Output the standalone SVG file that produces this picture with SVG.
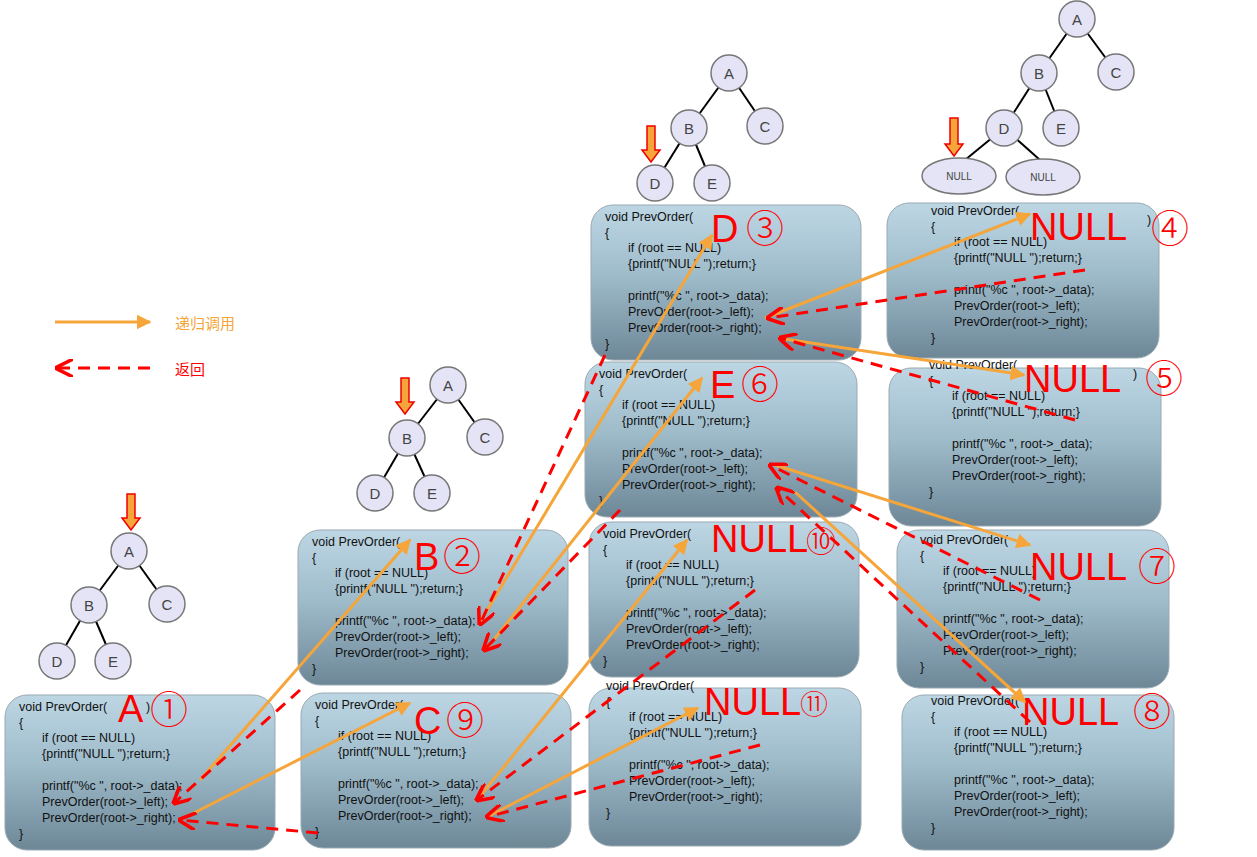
<svg xmlns="http://www.w3.org/2000/svg" width="1257" height="857" viewBox="0 0 1257 857">
<defs>
<linearGradient id="g" x1="0" y1="0" x2="0" y2="1"><stop offset="0" stop-color="#bdd6e4"/><stop offset="0.45" stop-color="#9fbccb"/><stop offset="1" stop-color="#6d8797"/></linearGradient>
<marker id="ao" viewBox="0 0 10 10" refX="9" refY="5" markerWidth="5" markerHeight="5" orient="auto"><path d="M0,0L10,5L0,10z" fill="#f5a53a"/></marker>
<marker id="ar" viewBox="0 0 10 10" refX="9" refY="5" markerWidth="6" markerHeight="6" orient="auto"><path d="M0,0L10,5L0,10" fill="none" stroke="#f00" stroke-width="2"/></marker>
<style>
.box{fill:url(#g);stroke:#9aa9b2;stroke-width:1}
.c{font-family:"Liberation Sans",Arial,sans-serif;font-size:12.5px;fill:#111}
.big{font-family:"Liberation Sans",Arial,sans-serif;font-size:38px;fill:#f00}
.num{font-family:"Noto Sans CJK SC","Liberation Serif",serif;font-size:38px;fill:#f00;font-weight:200}
.n{fill:#e4e4f6;stroke:#777;stroke-width:1.5}
.nt{font-family:"Liberation Sans",Arial,sans-serif;font-size:15px;fill:#444;text-anchor:middle}
.nt2{font-family:"Liberation Sans",Arial,sans-serif;font-size:10px;fill:#444;text-anchor:middle}
.e{stroke:#000;stroke-width:2}
.call{stroke:#f5a53a;stroke-width:3;fill:none;marker-end:url(#ao)}
.ret{stroke:#f00;stroke-width:3;stroke-dasharray:12,8;fill:none;marker-end:url(#ar)}
.down{fill:#f5a53a;stroke:#e00;stroke-width:1.5}
</style>
<g id="code">
<text x="0" y="0" class="c"><tspan x="14" dy="16">void  PrevOrder(</tspan><tspan x="14" dy="16">{</tspan><tspan x="37" dy="15">if (root == NULL)</tspan><tspan x="37" dy="16">{printf("NULL  ");return;}</tspan><tspan x="37" dy="32">printf("%c  ", root-&gt;_data);</tspan><tspan x="37" dy="16">PrevOrder(root-&gt;_left);</tspan><tspan x="37" dy="16">PrevOrder(root-&gt;_right);</tspan><tspan x="14" dy="16">}</tspan></text>
</g>
</defs>
<rect width="1257" height="857" fill="#fff"/>
<g id="legend">
<line x1="55" y1="322" x2="150" y2="322" class="call"/>
<text x="175" y="329" font-family="Noto Sans CJK SC,sans-serif" font-size="15" fill="#f5a53a">递归调用</text>
<line x1="150" y1="368" x2="57" y2="368" class="ret"/>
<text x="175" y="375" font-family="Noto Sans CJK SC,sans-serif" font-size="15" fill="#f00">返回</text>
</g>
<g id="tree1">
<line class="e" x1="129" y1="551" x2="89" y2="605"/><line class="e" x1="129" y1="551" x2="167" y2="604"/><line class="e" x1="89" y1="605" x2="57" y2="661"/><line class="e" x1="89" y1="605" x2="113" y2="661"/>
<circle class="n" cx="129" cy="551" r="18"/><text class="nt" x="129" y="557">A</text>
<circle class="n" cx="89" cy="605" r="18"/><text class="nt" x="89" y="611">B</text>
<circle class="n" cx="167" cy="604" r="18"/><text class="nt" x="167" y="610">C</text>
<circle class="n" cx="57" cy="661" r="18"/><text class="nt" x="57" y="667">D</text>
<circle class="n" cx="113" cy="661" r="18"/><text class="nt" x="113" y="667">E</text>
<path class="down" d="M127,494h8v24h5l-9,12l-9,-12h5z"/>
</g>
<g id="tree2">
<line class="e" x1="448" y1="385" x2="407" y2="438"/><line class="e" x1="448" y1="385" x2="485" y2="437"/><line class="e" x1="407" y1="438" x2="375" y2="493"/><line class="e" x1="407" y1="438" x2="432" y2="493"/>
<circle class="n" cx="448" cy="385" r="18"/><text class="nt" x="448" y="391">A</text>
<circle class="n" cx="407" cy="438" r="18"/><text class="nt" x="407" y="444">B</text>
<circle class="n" cx="485" cy="437" r="18"/><text class="nt" x="485" y="443">C</text>
<circle class="n" cx="375" cy="493" r="18"/><text class="nt" x="375" y="499">D</text>
<circle class="n" cx="432" cy="493" r="18"/><text class="nt" x="432" y="499">E</text>
<path class="down" d="M401,378h8v24h5l-9,12l-9,-12h5z"/>
</g>
<g id="tree3">
<line class="e" x1="729" y1="73" x2="689" y2="128"/><line class="e" x1="729" y1="73" x2="765" y2="126"/><line class="e" x1="689" y1="128" x2="655" y2="183"/><line class="e" x1="689" y1="128" x2="712" y2="183"/>
<circle class="n" cx="729" cy="73" r="18"/><text class="nt" x="729" y="79">A</text>
<circle class="n" cx="689" cy="128" r="18"/><text class="nt" x="689" y="134">B</text>
<circle class="n" cx="765" cy="126" r="18"/><text class="nt" x="765" y="132">C</text>
<circle class="n" cx="655" cy="183" r="18"/><text class="nt" x="655" y="189">D</text>
<circle class="n" cx="712" cy="183" r="18"/><text class="nt" x="712" y="189">E</text>
<path class="down" d="M647,126h8v24h5l-9,12l-9,-12h5z"/>
</g>
<g id="tree4">
<line class="e" x1="1077" y1="19" x2="1039" y2="73"/><line class="e" x1="1077" y1="19" x2="1116" y2="72"/><line class="e" x1="1039" y1="73" x2="1004" y2="128"/><line class="e" x1="1039" y1="73" x2="1061" y2="128"/><line class="e" x1="1004" y1="128" x2="965" y2="160"/><line class="e" x1="1004" y1="128" x2="1040" y2="160"/>
<circle class="n" cx="1077" cy="19" r="18"/><text class="nt" x="1077" y="25">A</text>
<circle class="n" cx="1039" cy="73" r="18"/><text class="nt" x="1039" y="79">B</text>
<circle class="n" cx="1116" cy="72" r="18"/><text class="nt" x="1116" y="78">C</text>
<circle class="n" cx="1004" cy="128" r="18"/><text class="nt" x="1004" y="134">D</text>
<circle class="n" cx="1061" cy="128" r="18"/><text class="nt" x="1061" y="134">E</text>
<ellipse class="n" cx="959" cy="176" rx="37" ry="18"/><text class="nt2" x="959" y="180">NULL</text>
<ellipse class="n" cx="1043" cy="177" rx="37" ry="18"/><text class="nt2" x="1043" y="181">NULL</text>
<path class="down" d="M950,118h8v26h5l-9,12l-9,-12h5z"/>
</g>
<g id="n1"><rect class="box" x="5" y="695" width="270" height="155" rx="22"/><use href="#code" x="5" y="695"/><text class="big" x="118" y="722">A</text><text class="c" x="146" y="711">)</text><text class="num" x="150" y="723">①</text></g>
<g id="n2"><rect class="box" x="298" y="530" width="270" height="155" rx="22"/><use href="#code" x="298" y="530"/><text class="big" x="414" y="570">B</text><text class="num" x="443" y="570">②</text></g>
<g id="n9"><rect class="box" x="301" y="693" width="270" height="155" rx="22"/><use href="#code" x="301" y="693"/><text class="big" x="414" y="734">C</text><text class="num" x="446" y="734">⑨</text></g>
<g id="n3"><rect class="box" x="591" y="205" width="270" height="155" rx="22"/><use href="#code" x="591" y="205"/><text class="big" x="711" y="242">D</text><text class="num" x="746" y="242">③</text></g>
<g id="n6"><rect class="box" x="585" y="362" width="272" height="155" rx="22"/><use href="#code" x="585" y="362"/><text class="big" x="710" y="398">E</text><text class="num" x="741" y="398">⑥</text></g>
<g id="n10"><rect class="box" x="589" y="522" width="270" height="155" rx="22"/><use href="#code" x="589" y="522"/><text class="big" x="711" y="552" font-size="34">NULL</text><text class="num" x="806" y="552" style="font-size:30px">⑩</text></g>
<g id="n11"><rect class="box" x="589" y="688" width="272" height="158" rx="22"/><use href="#code" x="592" y="674"/><text class="big" x="704" y="715" font-size="34">NULL</text><text class="num" x="800" y="715" style="font-size:28px">⑪</text></g>
<g id="n4"><rect class="box" x="887" y="203" width="272" height="155" rx="22"/><use href="#code" x="917" y="199"/><text class="big" x="1030" y="240" font-size="46">NULL</text><text class="c" x="1147" y="224">)</text><text class="num" x="1151" y="242">④</text></g>
<g id="n5"><rect class="box" x="889" y="368" width="272" height="158" rx="22"/><use href="#code" x="915" y="353"/><text class="big" x="1024" y="392" font-size="46">NULL</text><text class="c" x="1133" y="378">)</text><text class="num" x="1145" y="392">⑤</text></g>
<g id="n7"><rect class="box" x="897" y="530" width="272" height="158" rx="22"/><use href="#code" x="906" y="528"/><text class="big" x="1030" y="580" font-size="46">NULL</text><text class="num" x="1138" y="580">⑦</text></g>
<g id="n8"><rect class="box" x="902" y="695" width="272" height="155" rx="22"/><use href="#code" x="917" y="689"/><text class="big" x="1022" y="725" font-size="46">NULL</text><text class="num" x="1133" y="725">⑧</text></g>
<g id="connectors">
<line class="call" x1="200" y1="780" x2="410" y2="540"/>
<line class="call" x1="180" y1="820" x2="410" y2="703"/>
<line class="call" x1="480" y1="622" x2="712" y2="235"/>
<line class="call" x1="484" y1="652" x2="702" y2="378"/>
<line class="call" x1="765" y1="318" x2="1030" y2="214"/>
<line class="call" x1="778" y1="338" x2="1024" y2="375"/>
<line class="call" x1="775" y1="465" x2="1030" y2="545"/>
<line class="call" x1="795" y1="492" x2="1025" y2="702"/>
<line class="call" x1="477" y1="800" x2="687" y2="540"/>
<line class="call" x1="487" y1="817" x2="698" y2="708"/>
<line class="ret" x1="1085" y1="270" x2="768" y2="318"/>
<line class="ret" x1="1075" y1="420" x2="780" y2="338"/>
<line class="ret" x1="605" y1="355" x2="480" y2="624"/>
<line class="ret" x1="1040" y1="600" x2="770" y2="465"/>
<line class="ret" x1="1030" y1="722" x2="777" y2="488"/>
<line class="ret" x1="620" y1="510" x2="484" y2="650"/>
<line class="ret" x1="300" y1="690" x2="174" y2="803"/>
<line class="ret" x1="318" y1="833" x2="180" y2="820"/>
<line class="ret" x1="755" y1="590" x2="477" y2="800"/>
<line class="ret" x1="760" y1="745" x2="487" y2="817"/>
</g>
</svg>
